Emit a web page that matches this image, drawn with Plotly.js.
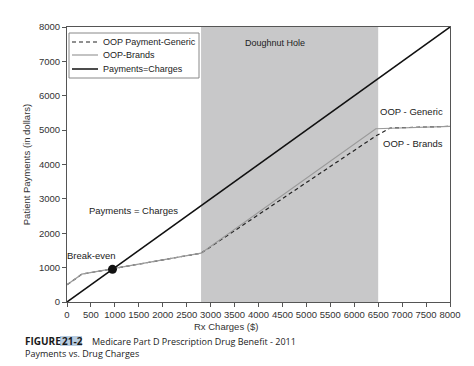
<!DOCTYPE html>
<html>
<head>
<meta charset="utf-8">
<script src="https://cdn.plot.ly/plotly-3.0.1.min.js"></script>
<style>html,body{margin:0;padding:0;background:#fff;}#chart{width:474px;height:366px;}</style>
</head>
<body>
<div id="chart"></div>
<script>
// Data
const chargesX = [0, 8000];
const paymentsY = [0, 8000];
const genericX = [0, 310, 2800, 6450, 6750, 8000];
const genericY = [500, 810, 1420, 4830, 5060, 5110];
const brandsX = [0, 310, 2800, 6450, 8000];
const brandsY = [500, 810, 1420, 5040, 5110];
const breakEvenX = [950];
const breakEvenY = [950];
const holeStart = 2800;
const holeEnd = 6500;
const xTicks = [0,500,1000,1500,2000,2500,3000,3500,4000,4500,5000,5500,6000,6500,7000,7500,8000];
const yTicks = [0,1000,2000,3000,4000,5000,6000,7000,8000];
const seriesNames = ['OOP Payment-Generic', 'OOP-Brands', 'Payments=Charges'];

const FONT = "'Liberation Sans', Arial, sans-serif";
const CAP = "'Open Sans', 'Noto Sans', sans-serif";

const genericLine = {color: '#222', width: 1.2, dash: '4px,3px'};
const brandsLine = {color: '#9a9a9a', width: 1.2};
const chargesLine = {color: '#111', width: 1.5};

const traces = [
  {x: genericX, y: genericY, mode: 'lines', name: seriesNames[0], line: genericLine},
  {x: brandsX, y: brandsY, mode: 'lines', name: seriesNames[1], line: brandsLine},
  {x: chargesX, y: paymentsY, mode: 'lines', name: seriesNames[2], line: chargesLine},
  {x: breakEvenX, y: breakEvenY, mode: 'markers', name: 'Break-even',
   marker: {color: '#111', size: 9}}
];

// pixel -> paper helpers (plot area: x 67..450, y 27..302)
const px = v => (v - 67) / 383;
const py = v => (302 - v) / 275;

const legendRows = [42, 55, 69];
const legendLines = [genericLine, brandsLine, chargesLine];

const shapes = [
  {type: 'rect', xref: 'x', yref: 'paper', x0: holeStart, x1: holeEnd, y0: 0, y1: 1,
   fillcolor: '#c8c8c9', line: {width: 0}, layer: 'below'},
  // highlight behind "21-2"
  {type: 'rect', xref: 'paper', yref: 'paper', x0: px(60), x1: px(82), y0: py(346), y1: py(336),
   fillcolor: '#b9cde1', line: {width: 0}, layer: 'below'},
  // legend box
  {type: 'rect', xref: 'paper', yref: 'paper', x0: px(69), x1: px(199), y0: py(78), y1: py(33),
   fillcolor: '#fff', line: {color: '#888', width: 1}, layer: 'above'}
];
const annotations = [];
legendRows.forEach((r, i) => {
  shapes.push({type: 'line', xref: 'paper', yref: 'paper', x0: px(72), x1: px(98), y0: py(r), y1: py(r),
    line: legendLines[i], layer: 'above'});
  annotations.push({x: px(102), y: py(r), xref: 'paper', yref: 'paper', xanchor: 'left', yanchor: 'middle',
    text: seriesNames[i], showarrow: false, borderpad: 0, font: {family: FONT, size: 9, color: '#222'}});
});

annotations.push(
  {x: 4350, y: 7540, xref: 'x', yref: 'y', text: 'Doughnut Hole', showarrow: false,
   font: {family: FONT, size: 9, color: '#222'}},
  {x: 7190, y: 5530, xref: 'x', yref: 'y', text: 'OOP - Generic', showarrow: false,
   font: {family: FONT, size: 9.5, color: '#222'}},
  {x: 7230, y: 4620, xref: 'x', yref: 'y', text: 'OOP - Brands', showarrow: false,
   font: {family: FONT, size: 9.5, color: '#222'}},
  {x: 1380, y: 2650, xref: 'x', yref: 'y', text: 'Payments = Charges', showarrow: false,
   font: {family: FONT, size: 9.5, color: '#222'}},
  {x: 520, y: 1340, xref: 'x', yref: 'y', text: 'Break-even', showarrow: false,
   font: {family: FONT, size: 9.5, color: '#222'}},
  {x: px(226), y: py(326), xref: 'paper', yref: 'paper', xanchor: 'center', yanchor: 'middle',
   text: 'Rx Charges ($)', showarrow: false, font: {family: FONT, size: 9.5, color: '#333'}},
  {x: px(23.5), y: py(341), xref: 'paper', yref: 'paper', xanchor: 'left', yanchor: 'middle', borderpad: 0,
   text: '<b>FIGURE</b>', showarrow: false, font: {family: CAP, size: 10, color: '#1a1a1a'}},
  {x: px(61), y: py(341), xref: 'paper', yref: 'paper', xanchor: 'left', yanchor: 'middle', borderpad: 0,
   text: '<b>21-2</b>', showarrow: false, font: {family: CAP, size: 10, color: '#1a1a1a'}},
  {x: px(91), y: py(341), xref: 'paper', yref: 'paper', xanchor: 'left', yanchor: 'middle', borderpad: 0,
   text: 'Medicare Part D Prescription Drug Benefit - 2011', showarrow: false,
   font: {family: CAP, size: 9, color: '#222'}},
  {x: px(24), y: py(353.5), xref: 'paper', yref: 'paper', xanchor: 'left', yanchor: 'middle', borderpad: 0,
   text: 'Payments vs. Drug Charges', showarrow: false,
   font: {family: CAP, size: 9, color: '#222'}}
);

const layout = {
  width: 474, height: 366,
  margin: {l: 67, r: 24, t: 27, b: 64},
  paper_bgcolor: '#fff', plot_bgcolor: '#fff',
  font: {family: FONT, size: 9, color: '#333'},
  showlegend: false,
  xaxis: {range: [0, 8000], tickvals: xTicks, ticktext: xTicks.map(String),
    showgrid: false, zeroline: false, showline: true, linecolor: '#555', linewidth: 1,
    mirror: true, ticks: 'outside', ticklen: 4, tickcolor: '#555',
    tickfont: {family: FONT, size: 9.5, color: '#333'}},
  yaxis: {range: [0, 8000], tickvals: yTicks, ticktext: yTicks.map(String),
    showgrid: false, zeroline: false, showline: true, linecolor: '#555', linewidth: 1,
    mirror: true, ticks: 'outside', ticklen: 4, tickcolor: '#555',
    tickfont: {family: FONT, size: 9.5, color: '#333'},
    title: {text: 'Patient Payments (in dollars)', font: {family: FONT, size: 9.5, color: '#333'}, standoff: 6}},
  shapes: shapes,
  annotations: annotations
};

Plotly.newPlot('chart', traces, layout, {displayModeBar: false, staticPlot: true});
</script>
</body>
</html>
